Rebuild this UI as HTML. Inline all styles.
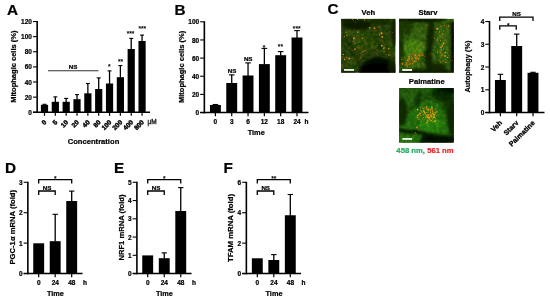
<!DOCTYPE html>
<html><head><meta charset="utf-8"><title>Figure</title>
<style>
html,body{margin:0;padding:0;background:#fff;}
body{width:550px;height:302px;overflow:hidden;}
svg{display:block;font-family:"Liberation Sans", sans-serif;}
</style></head>
<body>
<svg width="550" height="302" viewBox="0 0 550 302">
<defs><filter id="soft" x="0" y="0" width="100%" height="100%" filterUnits="userSpaceOnUse"><feGaussianBlur stdDeviation="0.32"/></filter></defs>
<rect width="550" height="302" fill="#fff"/>
<g filter="url(#soft)">
<defs>
<filter id="b1" x="-30%" y="-30%" width="160%" height="160%"><feGaussianBlur stdDeviation="1.3"/></filter>
<filter id="b2" x="-30%" y="-30%" width="160%" height="160%"><feGaussianBlur stdDeviation="2.4"/></filter>
<filter id="b3" x="-50%" y="-50%" width="200%" height="200%"><feGaussianBlur stdDeviation="0.5"/></filter>
<filter id="nz" x="0" y="0" width="100%" height="100%"><feTurbulence type="fractalNoise" baseFrequency="0.3" numOctaves="2" seed="5"/><feColorMatrix type="matrix" values="0 0 0 0 0  0 0 0 0 0.05  0 0 0 0 0  1.6 1.6 0 0 -1.25"/></filter>
<filter id="nl" x="0" y="0" width="100%" height="100%"><feTurbulence type="fractalNoise" baseFrequency="0.28" numOctaves="2" seed="11"/><feColorMatrix type="matrix" values="0 0 0 0 0.75  0 0 0 0 0.42  0 0 0 0 0.05  0 1.2 1.2 0 -0.85"/><feGaussianBlur stdDeviation="0.6"/></filter>
<clipPath id="cV"><rect x="341.1" y="18.8" width="54.4" height="53.9"/></clipPath>
<clipPath id="cS"><rect x="399.1" y="18.8" width="54.7" height="53.9"/></clipPath>
<clipPath id="cP"><rect x="399.1" y="88" width="54.8" height="54.7"/></clipPath>
</defs>
<g clip-path="url(#cV)">
<rect x="341" y="18.7" width="54.6" height="54.1" fill="#1c3606"/>
<g filter="url(#b1)">
<ellipse cx="366.0" cy="42.0" rx="12.0" ry="9.0" fill="#264a08" opacity="0.6" transform="rotate(0 366.0 42.0)"/>
<ellipse cx="352.0" cy="33.0" rx="10.0" ry="3.5" fill="#2c520a" opacity="0.7" transform="rotate(0 352.0 33.0)"/>
<ellipse cx="352.0" cy="62.0" rx="7.0" ry="6.0" fill="#264808" opacity="0.5" transform="rotate(0 352.0 62.0)"/>
<ellipse cx="388.0" cy="48.0" rx="5.0" ry="8.0" fill="#264808" opacity="0.5" transform="rotate(0 388.0 48.0)"/>
</g>
<rect x="341" y="18.7" width="54.6" height="54.1" filter="url(#nl)" opacity="0.28"/>
<rect x="341" y="18.7" width="54.6" height="54.1" filter="url(#nz)" opacity="0.4"/>
<g filter="url(#b1)" opacity="0.93">
<ellipse cx="357.0" cy="24.8" rx="14.5" ry="5.4" fill="#081a03" opacity="1" transform="rotate(0 357.0 24.8)"/>
<ellipse cx="349.0" cy="21.0" rx="9.0" ry="3.0" fill="#0a1c04" opacity="0.8" transform="rotate(0 349.0 21.0)"/>
<ellipse cx="378.5" cy="72.5" rx="19.5" ry="15.5" fill="#030a02" opacity="1" transform="rotate(0 378.5 72.5)"/>
<ellipse cx="378.5" cy="74.0" rx="20.0" ry="11.0" fill="#020601" opacity="1" transform="rotate(0 378.5 74.0)"/>
<ellipse cx="396.0" cy="32.0" rx="5.0" ry="13.0" fill="#0c1c05" opacity="0.9" transform="rotate(0 396.0 32.0)"/>
<ellipse cx="380.0" cy="22.0" rx="12.0" ry="3.5" fill="#122806" opacity="0.8" transform="rotate(0 380.0 22.0)"/>
<ellipse cx="342.0" cy="46.0" rx="3.0" ry="16.0" fill="#10220506" opacity="0.7" transform="rotate(0 342.0 46.0)"/>
<polyline points="344.0,36.0 352.0,50.0 358.0,62.0 361.0,70.0" fill="none" stroke="#0e2005" stroke-width="1.6" opacity="0.7" stroke-linecap="round"/>
<polyline points="372.0,36.0 380.0,44.0 388.0,56.0 392.0,66.0" fill="none" stroke="#122606" stroke-width="1.4" opacity="0.5" stroke-linecap="round"/>
<ellipse cx="348.0" cy="73.0" rx="9.0" ry="2.5" fill="#0a1804" opacity="0.9" transform="rotate(0 348.0 73.0)"/>
<ellipse cx="392.0" cy="66.0" rx="4.0" ry="7.0" fill="#142a06" opacity="0.7" transform="rotate(0 392.0 66.0)"/>
</g>
<g filter="url(#b3)" opacity="0.92">
<circle cx="352.5" cy="19.5" r="0.48" fill="#f09a10"/>
<circle cx="353.5" cy="21.0" r="0.44" fill="#f09a10"/>
<circle cx="357.5" cy="19.5" r="0.55" fill="#f09a10"/>
<circle cx="355.5" cy="22.5" r="0.42" fill="#d8700e"/>
<circle cx="364.5" cy="20.0" r="0.69" fill="#c8620e"/>
<circle cx="369.5" cy="27.5" r="0.56" fill="#e8880c"/>
<circle cx="346.0" cy="32.3" r="0.58" fill="#e07a0c"/>
<circle cx="349.5" cy="31.0" r="0.48" fill="#d0680c"/>
<circle cx="357.8" cy="32.3" r="0.80" fill="#e8920e"/>
<circle cx="344.3" cy="36.5" r="0.72" fill="#c8620e"/>
<circle cx="346.5" cy="35.5" r="0.48" fill="#f09a10"/>
<circle cx="354.0" cy="38.2" r="0.96" fill="#f09a10"/>
<circle cx="356.5" cy="35.5" r="0.48" fill="#b85a10"/>
<circle cx="362.5" cy="38.3" r="0.64" fill="#f09a10"/>
<circle cx="353.5" cy="41.5" r="0.64" fill="#c8620e"/>
<circle cx="355.0" cy="43.5" r="0.72" fill="#c8620e"/>
<circle cx="358.0" cy="42.5" r="0.56" fill="#d0680c"/>
<circle cx="353.5" cy="39.8" r="0.56" fill="#b85a10"/>
<circle cx="350.0" cy="29.0" r="0.40" fill="#e07a0c"/>
<circle cx="370.0" cy="28.0" r="0.80" fill="#e8900e"/>
<circle cx="374.5" cy="28.3" r="0.96" fill="#e8860c"/>
<circle cx="378.0" cy="27.0" r="0.56" fill="#e07a0c"/>
<circle cx="376.0" cy="30.5" r="0.64" fill="#d0680c"/>
<circle cx="381.5" cy="33.3" r="1.12" fill="#f09a10"/>
<circle cx="379.5" cy="35.0" r="0.64" fill="#e07a0c"/>
<circle cx="382.3" cy="37.0" r="0.88" fill="#f0a010"/>
<circle cx="392.8" cy="32.5" r="0.48" fill="#b85a10"/>
<circle cx="381.8" cy="45.8" r="0.80" fill="#e8a010"/>
<circle cx="384.5" cy="47.5" r="0.48" fill="#f09a10"/>
<circle cx="389.0" cy="44.5" r="0.48" fill="#c8620e"/>
<circle cx="377.0" cy="43.0" r="0.40" fill="#d0680c"/>
<circle cx="355.0" cy="49.3" r="0.96" fill="#e07010"/>
<circle cx="358.0" cy="47.8" r="0.64" fill="#d8700e"/>
<circle cx="360.0" cy="48.0" r="0.56" fill="#d0680c"/>
<circle cx="348.0" cy="51.3" r="0.64" fill="#b85a10"/>
<circle cx="352.0" cy="50.5" r="0.40" fill="#d8700e"/>
<circle cx="343.3" cy="54.5" r="0.80" fill="#e8900e"/>
<circle cx="342.5" cy="56.5" r="0.48" fill="#e07a0c"/>
<circle cx="346.5" cy="57.5" r="0.64" fill="#b85a10"/>
<circle cx="349.3" cy="58.5" r="0.88" fill="#f09010"/>
<circle cx="344.5" cy="59.5" r="0.72" fill="#f09a10"/>
<circle cx="363.0" cy="51.5" r="0.72" fill="#e08a10"/>
<circle cx="364.5" cy="50.5" r="0.48" fill="#d8700e"/>
<circle cx="365.3" cy="50.3" r="0.48" fill="#e8880c"/>
<circle cx="360.5" cy="57.5" r="0.64" fill="#b85a10"/>
<circle cx="358.5" cy="54.0" r="0.40" fill="#d8700e"/>
<circle cx="352.0" cy="62.5" r="0.40" fill="#b85a10"/>
<circle cx="347.0" cy="64.0" r="0.40" fill="#b85a10"/>
<circle cx="342.5" cy="67.5" r="0.40" fill="#e8880c"/>
<circle cx="356.0" cy="60.5" r="0.40" fill="#c8620e"/>
<circle cx="361.0" cy="53.5" r="0.48" fill="#f09a10"/>
<circle cx="381.8" cy="45.8" r="0.72" fill="#f0b010"/>
<circle cx="383.8" cy="48.3" r="0.80" fill="#f0a810"/>
<circle cx="388.8" cy="48.8" r="0.72" fill="#e0900e"/>
<circle cx="386.0" cy="54.5" r="0.56" fill="#d0680c"/>
<circle cx="389.0" cy="55.0" r="0.72" fill="#e07810"/>
<circle cx="384.5" cy="51.5" r="0.40" fill="#c8620e"/>
<circle cx="391.0" cy="58.0" r="0.40" fill="#d0680c"/>
<circle cx="375.0" cy="52.0" r="0.32" fill="#b85a10"/>
</g>
<rect x="344" y="69" width="10.1" height="1.9" fill="#e4efe4"/>
</g>
<g clip-path="url(#cS)">
<rect x="399" y="18.7" width="54.9" height="54.1" fill="#26540a"/>
<g filter="url(#b1)">
<ellipse cx="414.0" cy="48.0" rx="10.5" ry="9.5" fill="#44860c" opacity="0.95" transform="rotate(0 414.0 48.0)"/>
<ellipse cx="418.0" cy="34.0" rx="9.0" ry="8.0" fill="#2c600a" opacity="0.7" transform="rotate(0 418.0 34.0)"/>
<ellipse cx="412.0" cy="60.0" rx="9.0" ry="7.0" fill="#356e0a" opacity="0.8" transform="rotate(0 412.0 60.0)"/>
<ellipse cx="443.0" cy="23.0" rx="7.0" ry="3.0" fill="#1c5206" opacity="0.9" transform="rotate(0 443.0 23.0)"/>
<ellipse cx="442.0" cy="42.0" rx="6.0" ry="17.0" fill="#30640c" opacity="0.8" transform="rotate(0 442.0 42.0)"/>
</g>
<rect x="399" y="18.7" width="54.9" height="54.1" filter="url(#nl)" opacity="0.28"/>
<rect x="399" y="18.7" width="54.9" height="54.1" filter="url(#nz)" opacity="0.4"/>
<g filter="url(#b1)" opacity="0.93">
<ellipse cx="420.0" cy="19.5" rx="26.0" ry="2.8" fill="#071604" opacity="1" transform="rotate(0 420.0 19.5)"/>
<ellipse cx="404.0" cy="27.0" rx="9.0" ry="8.0" fill="#0a2605" opacity="0.7" transform="rotate(0 404.0 27.0)"/>
<ellipse cx="430.5" cy="36.0" rx="3.6" ry="18.0" fill="#0a1c06" opacity="0.95" transform="rotate(4 430.5 36.0)"/>
<ellipse cx="428.5" cy="60.0" rx="3.6" ry="12.0" fill="#081a05" opacity="0.95" transform="rotate(-6 428.5 60.0)"/>
<ellipse cx="453.5" cy="48.0" rx="2.6" ry="27.0" fill="#020601" opacity="1" transform="rotate(0 453.5 48.0)"/>
<polygon points="451.2,22.0 455.0,22.0 455.0,73.0 451.2,73.0" fill="#010401" opacity="1"/>
<ellipse cx="426.0" cy="72.5" rx="30.0" ry="3.2" fill="#081804" opacity="1" transform="rotate(0 426.0 72.5)"/>
<ellipse cx="436.0" cy="68.0" rx="10.0" ry="5.0" fill="#0a2006" opacity="0.9" transform="rotate(0 436.0 68.0)"/>
<ellipse cx="401.0" cy="50.0" rx="2.5" ry="16.0" fill="#0e2805" opacity="0.8" transform="rotate(0 401.0 50.0)"/>
</g>
<g filter="url(#b3)" opacity="0.92">
<circle cx="413.0" cy="60.6" r="0.84" fill="#b85a10"/>
<circle cx="411.8" cy="58.4" r="0.86" fill="#d0680c"/>
<circle cx="408.3" cy="60.9" r="0.80" fill="#c8620e"/>
<circle cx="420.0" cy="56.0" r="0.64" fill="#c8620e"/>
<circle cx="419.3" cy="55.8" r="0.52" fill="#d0680c"/>
<circle cx="415.8" cy="57.7" r="0.64" fill="#e07a0c"/>
<circle cx="406.2" cy="66.1" r="0.51" fill="#e07a0c"/>
<circle cx="416.9" cy="58.2" r="0.66" fill="#d8700e"/>
<circle cx="401.9" cy="59.4" r="0.62" fill="#d8700e"/>
<circle cx="408.1" cy="60.1" r="0.52" fill="#f09a10"/>
<circle cx="415.0" cy="57.4" r="0.54" fill="#d8700e"/>
<circle cx="415.2" cy="55.2" r="0.86" fill="#f09a10"/>
<circle cx="415.7" cy="58.5" r="0.49" fill="#b85a10"/>
<circle cx="412.8" cy="65.1" r="0.56" fill="#c8620e"/>
<circle cx="418.3" cy="59.8" r="0.54" fill="#e8880c"/>
<circle cx="409.1" cy="58.6" r="0.86" fill="#f09a10"/>
<circle cx="411.5" cy="59.3" r="0.63" fill="#d8700e"/>
<circle cx="417.2" cy="57.1" r="0.53" fill="#c8620e"/>
<circle cx="409.6" cy="57.4" r="0.88" fill="#c8620e"/>
<circle cx="412.7" cy="63.3" r="0.67" fill="#e8880c"/>
<circle cx="409.7" cy="61.7" r="0.51" fill="#d8700e"/>
<circle cx="413.3" cy="53.3" r="0.78" fill="#d0680c"/>
<circle cx="415.8" cy="61.7" r="0.59" fill="#b85a10"/>
<circle cx="402.5" cy="64.1" r="0.76" fill="#f09a10"/>
<circle cx="411.6" cy="56.7" r="0.49" fill="#f09a10"/>
<circle cx="416.0" cy="56.7" r="0.62" fill="#d0680c"/>
<circle cx="407.2" cy="65.3" r="0.70" fill="#d8700e"/>
<circle cx="418.5" cy="58.8" r="0.78" fill="#e8880c"/>
<circle cx="421.6" cy="54.8" r="0.87" fill="#b85a10"/>
<circle cx="412.0" cy="54.7" r="0.52" fill="#b85a10"/>
<circle cx="415.7" cy="54.9" r="0.58" fill="#e8880c"/>
<circle cx="409.1" cy="56.7" r="0.84" fill="#e8880c"/>
<circle cx="407.6" cy="60.2" r="0.79" fill="#f09a10"/>
<circle cx="417.0" cy="49.1" r="0.70" fill="#f09a10"/>
<circle cx="406.3" cy="63.8" r="0.61" fill="#e07a0c"/>
<circle cx="421.9" cy="55.4" r="0.73" fill="#b85a10"/>
<circle cx="414.2" cy="55.4" r="0.87" fill="#b85a10"/>
<circle cx="409.2" cy="64.6" r="0.56" fill="#e07a0c"/>
<circle cx="419.5" cy="55.4" r="0.81" fill="#d0680c"/>
<circle cx="415.5" cy="58.8" r="0.80" fill="#e07a0c"/>
<circle cx="422.8" cy="55.0" r="0.69" fill="#e8880c"/>
<circle cx="417.1" cy="58.3" r="0.77" fill="#d8700e"/>
<circle cx="407.4" cy="66.9" r="0.80" fill="#c8620e"/>
<circle cx="419.3" cy="56.8" r="0.58" fill="#d0680c"/>
<circle cx="402.2" cy="63.2" r="0.72" fill="#e8880c"/>
<circle cx="415.0" cy="51.1" r="0.66" fill="#d0680c"/>
<circle cx="414.2" cy="61.7" r="0.88" fill="#e8880c"/>
<circle cx="409.3" cy="66.9" r="0.51" fill="#d8700e"/>
<circle cx="416.1" cy="56.3" r="0.57" fill="#e07a0c"/>
<circle cx="416.2" cy="59.1" r="0.62" fill="#c8620e"/>
<circle cx="416.0" cy="61.1" r="0.73" fill="#f09a10"/>
<circle cx="409.4" cy="59.5" r="0.82" fill="#c8620e"/>
<circle cx="419.0" cy="55.2" r="0.84" fill="#e8880c"/>
<circle cx="410.4" cy="63.8" r="0.80" fill="#d8700e"/>
<circle cx="420.4" cy="52.7" r="0.81" fill="#d8700e"/>
<circle cx="406.1" cy="62.6" r="0.84" fill="#b85a10"/>
<circle cx="412.2" cy="58.2" r="0.76" fill="#e07a0c"/>
<circle cx="405.2" cy="65.0" r="0.80" fill="#c8620e"/>
<circle cx="406.5" cy="64.0" r="0.72" fill="#e07a0c"/>
<circle cx="415.5" cy="66.0" r="0.56" fill="#c8620e"/>
<circle cx="401.5" cy="57.3" r="0.48" fill="#b85a10"/>
<circle cx="423.0" cy="47.5" r="0.48" fill="#d0680c"/>
<circle cx="419.0" cy="46.0" r="0.48" fill="#e8880c"/>
<circle cx="411.5" cy="48.3" r="0.48" fill="#d8700e"/>
<circle cx="425.5" cy="50.5" r="0.56" fill="#b85a10"/>
<circle cx="425.0" cy="56.5" r="0.48" fill="#d0680c"/>
<circle cx="416.5" cy="27.0" r="0.36" fill="#a85a10"/>
<circle cx="422.0" cy="28.5" r="0.36" fill="#a85a10"/>
<circle cx="420.0" cy="38.0" r="0.40" fill="#b05c10"/>
<circle cx="413.0" cy="38.0" r="0.36" fill="#a85a10"/>
<circle cx="425.0" cy="34.0" r="0.40" fill="#b05c10"/>
<circle cx="418.5" cy="45.0" r="0.48" fill="#c8620e"/>
<circle cx="423.0" cy="42.0" r="0.48" fill="#c8620e"/>
<circle cx="425.0" cy="42.0" r="0.48" fill="#c8620e"/>
<circle cx="411.0" cy="44.0" r="0.40" fill="#b86010"/>
<circle cx="428.3" cy="25.0" r="0.40" fill="#a85a10"/>
<circle cx="425.5" cy="42.5" r="0.40" fill="#c8620e"/>
<circle cx="437.3" cy="28.8" r="1.12" fill="#f09a10"/>
<circle cx="441.0" cy="26.3" r="0.80" fill="#d0680c"/>
<circle cx="444.5" cy="25.5" r="0.64" fill="#d8700e"/>
<circle cx="446.5" cy="26.3" r="0.56" fill="#d0680c"/>
<circle cx="448.5" cy="26.0" r="0.64" fill="#e8900e"/>
<circle cx="439.5" cy="31.8" r="0.64" fill="#e07a0c"/>
<circle cx="436.0" cy="32.0" r="0.48" fill="#e07a0c"/>
<circle cx="442.5" cy="34.0" r="0.80" fill="#e8920e"/>
<circle cx="440.0" cy="35.5" r="0.56" fill="#e07a0c"/>
<circle cx="446.0" cy="31.5" r="0.40" fill="#d8700e"/>
<circle cx="437.3" cy="40.0" r="0.72" fill="#e8920e"/>
<circle cx="440.5" cy="40.5" r="0.56" fill="#e07a0c"/>
<circle cx="434.5" cy="38.5" r="0.48" fill="#f09a10"/>
<circle cx="443.5" cy="43.5" r="0.96" fill="#f0a010"/>
<circle cx="441.5" cy="45.0" r="0.72" fill="#c8620e"/>
<circle cx="446.5" cy="42.0" r="0.56" fill="#b85a10"/>
<circle cx="441.0" cy="47.5" r="0.80" fill="#f0a010"/>
<circle cx="442.5" cy="46.0" r="0.72" fill="#f4b010"/>
<circle cx="441.3" cy="50.0" r="0.80" fill="#e8920e"/>
<circle cx="440.5" cy="52.5" r="0.72" fill="#d0680c"/>
<circle cx="437.5" cy="52.3" r="0.72" fill="#e08a10"/>
<circle cx="443.5" cy="49.0" r="0.56" fill="#e07a0c"/>
<circle cx="445.5" cy="52.5" r="0.80" fill="#f0a010"/>
<circle cx="447.5" cy="53.0" r="0.56" fill="#f09a10"/>
<circle cx="445.0" cy="56.0" r="0.96" fill="#f0a010"/>
<circle cx="447.5" cy="57.5" r="0.80" fill="#e8900e"/>
<circle cx="449.0" cy="55.5" r="0.64" fill="#b85a10"/>
<circle cx="442.0" cy="55.0" r="0.64" fill="#f09a10"/>
<circle cx="441.0" cy="57.0" r="0.56" fill="#c8620e"/>
<circle cx="445.5" cy="59.5" r="0.64" fill="#d0680c"/>
<circle cx="440.5" cy="62.0" r="0.56" fill="#e8880c"/>
<circle cx="446.0" cy="62.3" r="0.64" fill="#e07a0c"/>
<circle cx="443.0" cy="60.5" r="0.48" fill="#f09a10"/>
<circle cx="439.0" cy="60.0" r="0.40" fill="#f09a10"/>
<circle cx="450.5" cy="52.0" r="0.48" fill="#e07a0c"/>
<circle cx="452.0" cy="57.0" r="0.40" fill="#d8700e"/>
<circle cx="435.0" cy="62.0" r="0.40" fill="#b05c10"/>
<circle cx="432.0" cy="37.0" r="0.40" fill="#a85a10"/>
<circle cx="452.5" cy="60.5" r="0.40" fill="#d8700e"/>
</g>
<rect x="402.2" y="69" width="9.9" height="2.0" fill="#e4efe4"/>
</g>
<g clip-path="url(#cP)">
<rect x="399" y="87.9" width="55" height="54.9" fill="#154a07"/>
<g filter="url(#b1)">
<ellipse cx="412.0" cy="98.0" rx="12.0" ry="9.0" fill="#22600a" opacity="0.8" transform="rotate(0 412.0 98.0)"/>
<ellipse cx="420.0" cy="90.5" rx="20.0" ry="3.0" fill="#1c5a0a" opacity="0.8" transform="rotate(0 420.0 90.5)"/>
<ellipse cx="452.0" cy="106.0" rx="3.0" ry="12.0" fill="#123808" opacity="0.8" transform="rotate(0 452.0 106.0)"/>
<ellipse cx="427.5" cy="114.0" rx="9.5" ry="8.5" fill="#5a8a10" opacity="0.45" transform="rotate(0 427.5 114.0)"/>
<path d="M426 101 C432 100 438 102 441 108 C445 116 448 124 450 134 C440 134 428 133 418 131 C410 130 404 130 400 128 C402 122 408 114 414 108 C418 104 422 102 426 101Z" fill="#1c7209" opacity="0.95"/>
<ellipse cx="431.0" cy="125.0" rx="12.0" ry="6.5" fill="#24900c" opacity="0.85" transform="rotate(0 431.0 125.0)"/>
<ellipse cx="410.0" cy="123.0" rx="7.0" ry="4.5" fill="#1a6c08" opacity="0.7" transform="rotate(0 410.0 123.0)"/>
<polygon points="399.0,133.5 410.0,134.5 416.0,133.8 423.0,137.5 426.0,143.0 399.0,143.0" fill="#1e720a" opacity="0.95"/>
</g>
<rect x="399" y="87.9" width="55" height="54.9" filter="url(#nl)" opacity="0.2"/>
<rect x="399" y="87.9" width="55" height="54.9" filter="url(#nz)" opacity="0.4"/>
<g filter="url(#b1)" opacity="0.93">
<ellipse cx="446.0" cy="90.5" rx="10.0" ry="4.2" fill="#040e03" opacity="1" transform="rotate(0 446.0 90.5)"/>
<ellipse cx="442.0" cy="95.0" rx="11.0" ry="6.0" fill="#082005" opacity="0.8" transform="rotate(20 442.0 95.0)"/>
<polyline points="441.0,92.0 445.0,100.0 448.0,110.0 451.0,122.0 453.0,134.0" fill="none" stroke="#0a2406" stroke-width="3" opacity="0.75" stroke-linecap="round"/>
<ellipse cx="418.0" cy="100.0" rx="3.5" ry="9.0" fill="#0a2205" opacity="0.6" transform="rotate(15 418.0 100.0)"/>
<ellipse cx="402.0" cy="112.0" rx="5.0" ry="14.0" fill="#0a2605" opacity="0.9" transform="rotate(0 402.0 112.0)"/>
<ellipse cx="452.0" cy="118.0" rx="4.0" ry="18.0" fill="#082005" opacity="0.9" transform="rotate(0 452.0 118.0)"/>
<polyline points="399.0,129.8 408.0,131.8 416.0,131.5 428.0,134.8 440.0,136.8 454.0,138.0" fill="none" stroke="#051203" stroke-width="2.8" opacity="1" stroke-linecap="round"/>
<polygon points="423.0,135.5 454.0,137.0 454.0,143.0 419.0,143.0" fill="#030c02" opacity="1"/>
<ellipse cx="440.0" cy="141.0" rx="14.0" ry="3.5" fill="#020802" opacity="1" transform="rotate(0 440.0 141.0)"/>
</g>
<g filter="url(#b3)" opacity="0.92">
<circle cx="420.7" cy="115.6" r="0.75" fill="#d88a10"/>
<circle cx="432.7" cy="111.3" r="0.78" fill="#c88010"/>
<circle cx="420.1" cy="113.5" r="0.85" fill="#e09410"/>
<circle cx="429.9" cy="119.1" r="0.83" fill="#e09410"/>
<circle cx="420.7" cy="107.6" r="0.57" fill="#c88010"/>
<circle cx="431.1" cy="116.1" r="0.71" fill="#f4b414"/>
<circle cx="435.6" cy="118.5" r="0.51" fill="#e09410"/>
<circle cx="426.8" cy="112.5" r="0.73" fill="#d88a10"/>
<circle cx="423.1" cy="108.3" r="0.66" fill="#f0a810"/>
<circle cx="427.8" cy="114.5" r="0.58" fill="#c88010"/>
<circle cx="425.4" cy="113.5" r="0.55" fill="#c88010"/>
<circle cx="428.8" cy="117.1" r="0.63" fill="#e89a0c"/>
<circle cx="433.2" cy="114.8" r="0.77" fill="#f0a810"/>
<circle cx="417.6" cy="117.2" r="0.83" fill="#d88a10"/>
<circle cx="419.6" cy="113.0" r="0.54" fill="#e09410"/>
<circle cx="419.3" cy="113.8" r="0.53" fill="#f0a810"/>
<circle cx="423.1" cy="114.8" r="0.66" fill="#e89a0c"/>
<circle cx="431.8" cy="107.4" r="0.83" fill="#e8a010"/>
<circle cx="425.7" cy="117.0" r="0.75" fill="#e09410"/>
<circle cx="426.8" cy="115.6" r="0.80" fill="#e8a010"/>
<circle cx="427.9" cy="109.0" r="0.64" fill="#e09410"/>
<circle cx="430.3" cy="109.9" r="0.85" fill="#e89a0c"/>
<circle cx="437.4" cy="111.4" r="0.62" fill="#c88010"/>
<circle cx="431.0" cy="113.8" r="0.67" fill="#c88010"/>
<circle cx="432.4" cy="110.9" r="0.58" fill="#e89a0c"/>
<circle cx="432.7" cy="113.2" r="0.81" fill="#f4b414"/>
<circle cx="434.1" cy="116.8" r="0.64" fill="#e8a010"/>
<circle cx="428.1" cy="110.1" r="0.80" fill="#e09410"/>
<circle cx="431.4" cy="116.0" r="0.82" fill="#e8a010"/>
<circle cx="436.2" cy="112.0" r="0.74" fill="#e09410"/>
<circle cx="430.3" cy="116.2" r="0.69" fill="#e09410"/>
<circle cx="428.8" cy="114.8" r="0.73" fill="#f4b414"/>
<circle cx="428.3" cy="110.9" r="0.45" fill="#f0a810"/>
<circle cx="421.8" cy="111.9" r="0.62" fill="#f0a810"/>
<circle cx="430.5" cy="121.1" r="0.45" fill="#e89a0c"/>
<circle cx="432.6" cy="118.9" r="0.56" fill="#e89a0c"/>
<circle cx="431.5" cy="117.2" r="0.50" fill="#e8a010"/>
<circle cx="428.3" cy="117.5" r="0.87" fill="#e8a010"/>
<circle cx="436.9" cy="112.2" r="0.64" fill="#c88010"/>
<circle cx="428.6" cy="118.5" r="0.68" fill="#c88010"/>
<circle cx="432.0" cy="108.3" r="0.80" fill="#e8a010"/>
<circle cx="428.3" cy="117.4" r="0.74" fill="#f0a810"/>
<circle cx="428.0" cy="109.6" r="0.80" fill="#e09410"/>
<circle cx="426.7" cy="115.6" r="0.52" fill="#e8a010"/>
<circle cx="433.3" cy="117.2" r="0.77" fill="#f4b414"/>
<circle cx="427.6" cy="120.3" r="0.75" fill="#f0a810"/>
<circle cx="423.2" cy="117.6" r="0.54" fill="#e89a0c"/>
<circle cx="433.3" cy="112.4" r="0.59" fill="#c88010"/>
<circle cx="417.6" cy="109.4" r="0.86" fill="#f4b414"/>
<circle cx="428.6" cy="116.3" r="0.71" fill="#e89a0c"/>
<circle cx="435.7" cy="109.0" r="0.51" fill="#e89a0c"/>
<circle cx="427.3" cy="116.9" r="0.79" fill="#f0a810"/>
<circle cx="432.7" cy="109.4" r="0.48" fill="#c88010"/>
<circle cx="425.1" cy="114.9" r="0.61" fill="#d88a10"/>
<circle cx="427.9" cy="121.3" r="0.64" fill="#c88010"/>
<circle cx="426.9" cy="122.7" r="0.83" fill="#e8a010"/>
<circle cx="423.6" cy="111.5" r="0.61" fill="#f4b414"/>
<circle cx="431.2" cy="120.6" r="0.73" fill="#f4b414"/>
<circle cx="430.8" cy="115.2" r="0.79" fill="#e09410"/>
<circle cx="417.5" cy="110.4" r="0.64" fill="#c88010"/>
<circle cx="424.0" cy="111.2" r="0.87" fill="#e8a010"/>
<circle cx="430.5" cy="112.2" r="0.76" fill="#e89a0c"/>
<circle cx="431.6" cy="114.2" r="0.79" fill="#c88010"/>
<circle cx="425.5" cy="114.4" r="0.49" fill="#f0a810"/>
<circle cx="429.6" cy="117.9" r="0.84" fill="#e8a010"/>
<circle cx="424.7" cy="112.7" r="0.87" fill="#f4b414"/>
<circle cx="435.1" cy="112.9" r="0.87" fill="#e09410"/>
<circle cx="424.7" cy="107.9" r="0.56" fill="#c88010"/>
<circle cx="428.2" cy="114.8" r="0.82" fill="#e09410"/>
<circle cx="434.9" cy="114.7" r="0.66" fill="#e8a010"/>
<circle cx="418.6" cy="114.7" r="0.63" fill="#f4b414"/>
<circle cx="433.3" cy="116.5" r="0.63" fill="#e09410"/>
<circle cx="426.6" cy="106.3" r="0.65" fill="#e8a010"/>
<circle cx="422.4" cy="119.7" r="0.54" fill="#e89a0c"/>
<circle cx="436.2" cy="108.1" r="0.47" fill="#e89a0c"/>
<circle cx="419.0" cy="118.0" r="0.46" fill="#f4b414"/>
<circle cx="431.9" cy="109.1" r="0.59" fill="#e89a0c"/>
<circle cx="423.6" cy="110.5" r="0.84" fill="#d88a10"/>
<circle cx="420.9" cy="110.5" r="0.51" fill="#f4b414"/>
<circle cx="434.1" cy="117.1" r="0.84" fill="#f4b414"/>
<circle cx="426.6" cy="109.1" r="0.81" fill="#c88010"/>
<circle cx="426.6" cy="107.5" r="0.63" fill="#d88a10"/>
<circle cx="417.7" cy="117.1" r="0.69" fill="#c88010"/>
<circle cx="435.1" cy="117.8" r="0.48" fill="#f0a810"/>
<circle cx="434.5" cy="115.0" r="0.63" fill="#f4b414"/>
<circle cx="423.4" cy="114.2" r="0.57" fill="#c88010"/>
<circle cx="417.5" cy="115.5" r="0.64" fill="#f4b414"/>
<circle cx="416.8" cy="117.5" r="0.56" fill="#c88010"/>
<circle cx="419.0" cy="119.5" r="0.56" fill="#f0a810"/>
<circle cx="435.5" cy="121.0" r="0.64" fill="#f4b414"/>
<circle cx="437.0" cy="116.0" r="0.48" fill="#f4b414"/>
<circle cx="417.0" cy="127.5" r="0.88" fill="#f09a10"/>
<circle cx="418.5" cy="130.0" r="0.48" fill="#e89a0c"/>
<circle cx="415.5" cy="132.5" r="0.48" fill="#f4b414"/>
<circle cx="420.5" cy="136.0" r="0.40" fill="#e09410"/>
<circle cx="413.0" cy="137.5" r="0.40" fill="#e09410"/>
<circle cx="434.5" cy="121.5" r="0.88" fill="#f0b414"/>
<circle cx="432.5" cy="122.0" r="0.56" fill="#c88010"/>
<circle cx="437.0" cy="110.0" r="0.40" fill="#d88a10"/>
<circle cx="440.0" cy="118.0" r="0.40" fill="#c07810"/>
<circle cx="443.0" cy="121.0" r="0.40" fill="#c07810"/>
<circle cx="424.0" cy="124.0" r="0.48" fill="#e89a0c"/>
<circle cx="428.0" cy="125.5" r="0.40" fill="#e89a0c"/>
<circle cx="421.0" cy="121.0" r="0.48" fill="#f4b414"/>
<circle cx="436.0" cy="127.0" r="0.32" fill="#b87010"/>
</g>
<rect x="402.3" y="138" width="9.8" height="1.9" fill="#e4efe4"/>
</g>
<text x="7.0" y="14.9" font-size="15.3" text-anchor="start" font-weight="bold" fill="#000" stroke="#000" stroke-width="0.22">A</text>
<text x="174.4" y="14.8" font-size="15.3" text-anchor="start" font-weight="bold" fill="#000" stroke="#000" stroke-width="0.22">B</text>
<text x="327.4" y="13.9" font-size="15.3" text-anchor="start" font-weight="bold" fill="#000" stroke="#000" stroke-width="0.22">C</text>
<text x="4.9" y="173.0" font-size="15.3" text-anchor="start" font-weight="bold" fill="#000" stroke="#000" stroke-width="0.22">D</text>
<text x="113.9" y="173.0" font-size="15.3" text-anchor="start" font-weight="bold" fill="#000" stroke="#000" stroke-width="0.22">E</text>
<text x="223.6" y="173.0" font-size="15.3" text-anchor="start" font-weight="bold" fill="#000" stroke="#000" stroke-width="0.22">F</text>
<rect x="40.90" y="104.80" width="7.20" height="7.45" fill="#000"/>
<line x1="44.50" y1="104.20" x2="44.50" y2="105.30" stroke="#000" stroke-width="1.3"/>
<line x1="42.50" y1="104.30" x2="46.50" y2="104.30" stroke="#000" stroke-width="1.1"/>
<line x1="44.50" y1="112.25" x2="44.50" y2="115.85" stroke="#000" stroke-width="1.2"/>
<rect x="51.74" y="101.80" width="7.20" height="10.45" fill="#000"/>
<line x1="55.34" y1="96.80" x2="55.34" y2="102.30" stroke="#000" stroke-width="1.3"/>
<line x1="53.34" y1="96.90" x2="57.34" y2="96.90" stroke="#000" stroke-width="1.1"/>
<line x1="55.34" y1="112.25" x2="55.34" y2="115.85" stroke="#000" stroke-width="1.2"/>
<rect x="62.58" y="101.80" width="7.20" height="10.45" fill="#000"/>
<line x1="66.18" y1="98.30" x2="66.18" y2="102.30" stroke="#000" stroke-width="1.3"/>
<line x1="64.18" y1="98.40" x2="68.18" y2="98.40" stroke="#000" stroke-width="1.1"/>
<line x1="66.18" y1="112.25" x2="66.18" y2="115.85" stroke="#000" stroke-width="1.2"/>
<rect x="73.42" y="99.20" width="7.20" height="13.05" fill="#000"/>
<line x1="77.02" y1="94.50" x2="77.02" y2="99.70" stroke="#000" stroke-width="1.3"/>
<line x1="75.02" y1="94.60" x2="79.02" y2="94.60" stroke="#000" stroke-width="1.1"/>
<line x1="77.02" y1="112.25" x2="77.02" y2="115.85" stroke="#000" stroke-width="1.2"/>
<rect x="84.26" y="93.30" width="7.20" height="18.95" fill="#000"/>
<line x1="87.86" y1="83.40" x2="87.86" y2="93.80" stroke="#000" stroke-width="1.3"/>
<line x1="85.86" y1="83.50" x2="89.86" y2="83.50" stroke="#000" stroke-width="1.1"/>
<line x1="87.86" y1="112.25" x2="87.86" y2="115.85" stroke="#000" stroke-width="1.2"/>
<rect x="95.10" y="89.00" width="7.20" height="23.25" fill="#000"/>
<line x1="98.70" y1="77.80" x2="98.70" y2="89.50" stroke="#000" stroke-width="1.3"/>
<line x1="96.70" y1="77.90" x2="100.70" y2="77.90" stroke="#000" stroke-width="1.1"/>
<line x1="98.70" y1="112.25" x2="98.70" y2="115.85" stroke="#000" stroke-width="1.2"/>
<rect x="105.94" y="83.50" width="7.20" height="28.75" fill="#000"/>
<line x1="109.54" y1="70.80" x2="109.54" y2="84.00" stroke="#000" stroke-width="1.3"/>
<line x1="107.54" y1="70.90" x2="111.54" y2="70.90" stroke="#000" stroke-width="1.1"/>
<line x1="109.54" y1="112.25" x2="109.54" y2="115.85" stroke="#000" stroke-width="1.2"/>
<rect x="116.78" y="77.20" width="7.20" height="35.05" fill="#000"/>
<line x1="120.38" y1="65.50" x2="120.38" y2="77.70" stroke="#000" stroke-width="1.3"/>
<line x1="118.38" y1="65.60" x2="122.38" y2="65.60" stroke="#000" stroke-width="1.1"/>
<line x1="120.38" y1="112.25" x2="120.38" y2="115.85" stroke="#000" stroke-width="1.2"/>
<rect x="127.62" y="49.00" width="7.20" height="63.25" fill="#000"/>
<line x1="131.22" y1="38.30" x2="131.22" y2="49.50" stroke="#000" stroke-width="1.3"/>
<line x1="129.22" y1="38.40" x2="133.22" y2="38.40" stroke="#000" stroke-width="1.1"/>
<line x1="131.22" y1="112.25" x2="131.22" y2="115.85" stroke="#000" stroke-width="1.2"/>
<rect x="138.46" y="41.00" width="7.20" height="71.25" fill="#000"/>
<line x1="142.06" y1="35.00" x2="142.06" y2="41.50" stroke="#000" stroke-width="1.3"/>
<line x1="140.06" y1="35.10" x2="144.06" y2="35.10" stroke="#000" stroke-width="1.1"/>
<line x1="142.06" y1="112.25" x2="142.06" y2="115.85" stroke="#000" stroke-width="1.2"/>
<line x1="37.15" y1="21.03" x2="37.15" y2="113.05" stroke="#000" stroke-width="1.6"/>
<line x1="32.95" y1="112.25" x2="150.00" y2="112.25" stroke="#000" stroke-width="1.6"/>
<line x1="32.95" y1="112.25" x2="37.15" y2="112.25" stroke="#000" stroke-width="1.1"/>
<text x="31.949999999999996" y="114.85" font-size="6.5" text-anchor="end" font-weight="bold" fill="#000" stroke="#000" stroke-width="0.22">0</text>
<line x1="32.95" y1="97.13" x2="37.15" y2="97.13" stroke="#000" stroke-width="1.1"/>
<text x="31.949999999999996" y="99.72999999999999" font-size="6.5" text-anchor="end" font-weight="bold" fill="#000" stroke="#000" stroke-width="0.22">20</text>
<line x1="32.95" y1="82.01" x2="37.15" y2="82.01" stroke="#000" stroke-width="1.1"/>
<text x="31.949999999999996" y="84.60999999999999" font-size="6.5" text-anchor="end" font-weight="bold" fill="#000" stroke="#000" stroke-width="0.22">40</text>
<line x1="32.95" y1="66.89" x2="37.15" y2="66.89" stroke="#000" stroke-width="1.1"/>
<text x="31.949999999999996" y="69.49" font-size="6.5" text-anchor="end" font-weight="bold" fill="#000" stroke="#000" stroke-width="0.22">60</text>
<line x1="32.95" y1="51.77" x2="37.15" y2="51.77" stroke="#000" stroke-width="1.1"/>
<text x="31.949999999999996" y="54.37" font-size="6.5" text-anchor="end" font-weight="bold" fill="#000" stroke="#000" stroke-width="0.22">80</text>
<line x1="32.95" y1="36.65" x2="37.15" y2="36.65" stroke="#000" stroke-width="1.1"/>
<text x="31.949999999999996" y="39.25000000000001" font-size="6.5" text-anchor="end" font-weight="bold" fill="#000" stroke="#000" stroke-width="0.22">100</text>
<line x1="32.95" y1="21.53" x2="37.15" y2="21.53" stroke="#000" stroke-width="1.1"/>
<text x="31.949999999999996" y="24.130000000000003" font-size="6.5" text-anchor="end" font-weight="bold" fill="#000" stroke="#000" stroke-width="0.22">120</text>
<text x="46.9" y="122.75" font-size="6.6" text-anchor="end" font-weight="bold" fill="#000" stroke="#000" stroke-width="0.38" transform="rotate(-45 46.9 122.75)">0</text>
<text x="57.74" y="122.75" font-size="6.6" text-anchor="end" font-weight="bold" fill="#000" stroke="#000" stroke-width="0.38" transform="rotate(-45 57.74 122.75)">5</text>
<text x="68.58000000000001" y="122.75" font-size="6.6" text-anchor="end" font-weight="bold" fill="#000" stroke="#000" stroke-width="0.38" transform="rotate(-45 68.58000000000001 122.75)">10</text>
<text x="79.42" y="122.75" font-size="6.6" text-anchor="end" font-weight="bold" fill="#000" stroke="#000" stroke-width="0.38" transform="rotate(-45 79.42 122.75)">20</text>
<text x="90.26" y="122.75" font-size="6.6" text-anchor="end" font-weight="bold" fill="#000" stroke="#000" stroke-width="0.38" transform="rotate(-45 90.26 122.75)">40</text>
<text x="101.10000000000001" y="122.75" font-size="6.6" text-anchor="end" font-weight="bold" fill="#000" stroke="#000" stroke-width="0.38" transform="rotate(-45 101.10000000000001 122.75)">80</text>
<text x="111.94" y="122.75" font-size="6.6" text-anchor="end" font-weight="bold" fill="#000" stroke="#000" stroke-width="0.38" transform="rotate(-45 111.94 122.75)">100</text>
<text x="122.78" y="122.75" font-size="6.6" text-anchor="end" font-weight="bold" fill="#000" stroke="#000" stroke-width="0.38" transform="rotate(-45 122.78 122.75)">200</text>
<text x="133.62" y="122.75" font-size="6.6" text-anchor="end" font-weight="bold" fill="#000" stroke="#000" stroke-width="0.38" transform="rotate(-45 133.62 122.75)">400</text>
<text x="144.46" y="122.75" font-size="6.6" text-anchor="end" font-weight="bold" fill="#000" stroke="#000" stroke-width="0.38" transform="rotate(-45 144.46 122.75)">800</text>
<text x="152" y="123.9" font-size="6.5" text-anchor="middle" font-weight="normal" fill="#222" stroke="#222" stroke-width="0.35">μM</text>
<text x="93.5" y="143.6" font-size="7.62" text-anchor="middle" font-weight="bold" fill="#000" stroke="#000" stroke-width="0.22">Concentration</text>
<text x="16.5" y="66.65" font-size="7.55" text-anchor="middle" font-weight="bold" fill="#000" stroke="#000" stroke-width="0.22" transform="rotate(-90 16.5 66.65)" textLength="72.3" lengthAdjust="spacingAndGlyphs">Mitophagic cells (%)</text>
<line x1="48" y1="70.75" x2="98.5" y2="70.75" stroke="#333" stroke-width="1.2"/>
<text x="73.1" y="69.4" font-size="6.2" text-anchor="middle" font-weight="bold" fill="#000" stroke="#000" stroke-width="0.22">NS</text>
<text x="109.3" y="69.35" font-size="6.6" text-anchor="middle" font-weight="bold" fill="#000" stroke="#000" stroke-width="0.08">*</text>
<text x="120.6" y="63.55" font-size="6.6" text-anchor="middle" font-weight="bold" fill="#000" stroke="#000" stroke-width="0.08">**</text>
<text x="130.5" y="35.95" font-size="6.6" text-anchor="middle" font-weight="bold" fill="#000" stroke="#000" stroke-width="0.08">***</text>
<text x="142.3" y="31.0" font-size="6.6" text-anchor="middle" font-weight="bold" fill="#000" stroke="#000" stroke-width="0.08">***</text>
<rect x="209.95" y="105.00" width="10.90" height="7.55" fill="#000"/>
<line x1="215.40" y1="104.40" x2="215.40" y2="105.50" stroke="#000" stroke-width="1.3"/>
<line x1="212.60" y1="104.50" x2="218.20" y2="104.50" stroke="#000" stroke-width="1.1"/>
<line x1="215.40" y1="112.55" x2="215.40" y2="116.15" stroke="#000" stroke-width="1.2"/>
<rect x="226.27" y="83.00" width="10.90" height="29.55" fill="#000"/>
<line x1="231.72" y1="74.80" x2="231.72" y2="83.50" stroke="#000" stroke-width="1.3"/>
<line x1="228.92" y1="74.90" x2="234.52" y2="74.90" stroke="#000" stroke-width="1.1"/>
<line x1="231.72" y1="112.55" x2="231.72" y2="116.15" stroke="#000" stroke-width="1.2"/>
<rect x="242.59" y="75.50" width="10.90" height="37.05" fill="#000"/>
<line x1="248.04" y1="62.80" x2="248.04" y2="76.00" stroke="#000" stroke-width="1.3"/>
<line x1="245.24" y1="62.90" x2="250.84" y2="62.90" stroke="#000" stroke-width="1.1"/>
<line x1="248.04" y1="112.55" x2="248.04" y2="116.15" stroke="#000" stroke-width="1.2"/>
<rect x="258.91" y="64.10" width="10.90" height="48.45" fill="#000"/>
<line x1="264.36" y1="48.30" x2="264.36" y2="64.60" stroke="#000" stroke-width="1.3"/>
<line x1="261.56" y1="48.40" x2="267.16" y2="48.40" stroke="#000" stroke-width="1.1"/>
<line x1="264.36" y1="112.55" x2="264.36" y2="116.15" stroke="#000" stroke-width="1.2"/>
<rect x="275.23" y="55.20" width="10.90" height="57.35" fill="#000"/>
<line x1="280.68" y1="51.50" x2="280.68" y2="55.70" stroke="#000" stroke-width="1.3"/>
<line x1="277.88" y1="51.60" x2="283.48" y2="51.60" stroke="#000" stroke-width="1.1"/>
<line x1="280.68" y1="112.55" x2="280.68" y2="116.15" stroke="#000" stroke-width="1.2"/>
<rect x="291.55" y="37.50" width="10.90" height="75.05" fill="#000"/>
<line x1="297.00" y1="30.50" x2="297.00" y2="38.00" stroke="#000" stroke-width="1.3"/>
<line x1="294.20" y1="30.60" x2="299.80" y2="30.60" stroke="#000" stroke-width="1.1"/>
<line x1="297.00" y1="112.55" x2="297.00" y2="116.15" stroke="#000" stroke-width="1.2"/>
<line x1="204.35" y1="21.30" x2="204.35" y2="113.35" stroke="#000" stroke-width="1.6"/>
<line x1="200.15" y1="112.55" x2="308.50" y2="112.55" stroke="#000" stroke-width="1.6"/>
<line x1="200.15" y1="112.55" x2="204.35" y2="112.55" stroke="#000" stroke-width="1.1"/>
<text x="199.15" y="115.14999999999999" font-size="6.5" text-anchor="end" font-weight="bold" fill="#000" stroke="#000" stroke-width="0.22">0</text>
<line x1="200.15" y1="94.40" x2="204.35" y2="94.40" stroke="#000" stroke-width="1.1"/>
<text x="199.15" y="97.0" font-size="6.5" text-anchor="end" font-weight="bold" fill="#000" stroke="#000" stroke-width="0.22">20</text>
<line x1="200.15" y1="76.25" x2="204.35" y2="76.25" stroke="#000" stroke-width="1.1"/>
<text x="199.15" y="78.85" font-size="6.5" text-anchor="end" font-weight="bold" fill="#000" stroke="#000" stroke-width="0.22">40</text>
<line x1="200.15" y1="58.10" x2="204.35" y2="58.10" stroke="#000" stroke-width="1.1"/>
<text x="199.15" y="60.7" font-size="6.5" text-anchor="end" font-weight="bold" fill="#000" stroke="#000" stroke-width="0.22">60</text>
<line x1="200.15" y1="39.95" x2="204.35" y2="39.95" stroke="#000" stroke-width="1.1"/>
<text x="199.15" y="42.550000000000004" font-size="6.5" text-anchor="end" font-weight="bold" fill="#000" stroke="#000" stroke-width="0.22">80</text>
<line x1="200.15" y1="21.80" x2="204.35" y2="21.80" stroke="#000" stroke-width="1.1"/>
<text x="199.15" y="24.4" font-size="6.5" text-anchor="end" font-weight="bold" fill="#000" stroke="#000" stroke-width="0.22">100</text>
<text x="215.4" y="123.6" font-size="6.5" text-anchor="middle" font-weight="bold" fill="#000" stroke="#000" stroke-width="0.22">0</text>
<text x="231.72" y="123.6" font-size="6.5" text-anchor="middle" font-weight="bold" fill="#000" stroke="#000" stroke-width="0.22">3</text>
<text x="248.04000000000002" y="123.6" font-size="6.5" text-anchor="middle" font-weight="bold" fill="#000" stroke="#000" stroke-width="0.22">6</text>
<text x="264.36" y="123.6" font-size="6.5" text-anchor="middle" font-weight="bold" fill="#000" stroke="#000" stroke-width="0.22">12</text>
<text x="280.68" y="123.6" font-size="6.5" text-anchor="middle" font-weight="bold" fill="#000" stroke="#000" stroke-width="0.22">18</text>
<text x="297.0" y="123.6" font-size="6.5" text-anchor="middle" font-weight="bold" fill="#000" stroke="#000" stroke-width="0.22">24</text>
<text x="306.5" y="123.6" font-size="6.5" text-anchor="middle" font-weight="bold" fill="#000" stroke="#000" stroke-width="0.22">h</text>
<text x="256.2" y="135.2" font-size="7.4" text-anchor="middle" font-weight="bold" fill="#000" stroke="#000" stroke-width="0.22">Time</text>
<text x="183.7" y="66.9" font-size="7.55" text-anchor="middle" font-weight="bold" fill="#000" stroke="#000" stroke-width="0.22" transform="rotate(-90 183.7 66.9)" textLength="72.3" lengthAdjust="spacingAndGlyphs">Mitophagic cells (%)</text>
<text x="232.0" y="72.8" font-size="6.2" text-anchor="middle" font-weight="bold" fill="#000" stroke="#000" stroke-width="0.22">NS</text>
<text x="248.2" y="61.0" font-size="6.2" text-anchor="middle" font-weight="bold" fill="#000" stroke="#000" stroke-width="0.22">NS</text>
<text x="264.1" y="49.55" font-size="6.6" text-anchor="middle" font-weight="bold" fill="#000" stroke="#000" stroke-width="0.08">*</text>
<text x="280.4" y="49.25" font-size="6.6" text-anchor="middle" font-weight="bold" fill="#000" stroke="#000" stroke-width="0.08">**</text>
<text x="296.7" y="31.05" font-size="6.6" text-anchor="middle" font-weight="bold" fill="#000" stroke="#000" stroke-width="0.08">***</text>
<rect x="494.95" y="80.00" width="10.90" height="32.55" fill="#000"/>
<line x1="500.40" y1="74.20" x2="500.40" y2="80.50" stroke="#000" stroke-width="1.3"/>
<line x1="497.60" y1="74.30" x2="503.20" y2="74.30" stroke="#000" stroke-width="1.1"/>
<line x1="500.40" y1="112.55" x2="500.40" y2="116.15" stroke="#000" stroke-width="1.2"/>
<rect x="511.25" y="46.00" width="10.90" height="66.55" fill="#000"/>
<line x1="516.70" y1="34.00" x2="516.70" y2="46.50" stroke="#000" stroke-width="1.3"/>
<line x1="513.90" y1="34.10" x2="519.50" y2="34.10" stroke="#000" stroke-width="1.1"/>
<line x1="516.70" y1="112.55" x2="516.70" y2="116.15" stroke="#000" stroke-width="1.2"/>
<rect x="527.55" y="72.80" width="10.90" height="39.75" fill="#000"/>
<line x1="533.00" y1="72.20" x2="533.00" y2="73.30" stroke="#000" stroke-width="1.3"/>
<line x1="530.20" y1="72.30" x2="535.80" y2="72.30" stroke="#000" stroke-width="1.1"/>
<line x1="533.00" y1="112.55" x2="533.00" y2="116.15" stroke="#000" stroke-width="1.2"/>
<line x1="489.50" y1="21.01" x2="489.50" y2="113.35" stroke="#000" stroke-width="1.6"/>
<line x1="485.30" y1="112.55" x2="544.50" y2="112.55" stroke="#000" stroke-width="1.6"/>
<line x1="485.30" y1="112.55" x2="489.50" y2="112.55" stroke="#000" stroke-width="1.1"/>
<text x="484.3" y="115.14999999999999" font-size="6.5" text-anchor="end" font-weight="bold" fill="#000" stroke="#000" stroke-width="0.22">0</text>
<line x1="485.30" y1="89.79" x2="489.50" y2="89.79" stroke="#000" stroke-width="1.1"/>
<text x="484.3" y="92.38999999999999" font-size="6.5" text-anchor="end" font-weight="bold" fill="#000" stroke="#000" stroke-width="0.22">1</text>
<line x1="485.30" y1="67.03" x2="489.50" y2="67.03" stroke="#000" stroke-width="1.1"/>
<text x="484.3" y="69.63" font-size="6.5" text-anchor="end" font-weight="bold" fill="#000" stroke="#000" stroke-width="0.22">2</text>
<line x1="485.30" y1="44.27" x2="489.50" y2="44.27" stroke="#000" stroke-width="1.1"/>
<text x="484.3" y="46.87" font-size="6.5" text-anchor="end" font-weight="bold" fill="#000" stroke="#000" stroke-width="0.22">3</text>
<line x1="485.30" y1="21.51" x2="489.50" y2="21.51" stroke="#000" stroke-width="1.1"/>
<text x="484.3" y="24.109999999999992" font-size="6.5" text-anchor="end" font-weight="bold" fill="#000" stroke="#000" stroke-width="0.22">4</text>
<text x="502.59999999999997" y="123.35" font-size="7.0" text-anchor="end" font-weight="bold" fill="#000" stroke="#000" stroke-width="0.32" transform="rotate(-45 502.59999999999997 123.35)">Veh</text>
<text x="518.9000000000001" y="123.35" font-size="7.0" text-anchor="end" font-weight="bold" fill="#000" stroke="#000" stroke-width="0.32" transform="rotate(-45 518.9000000000001 123.35)">Starv</text>
<text x="535.2" y="123.35" font-size="7.0" text-anchor="end" font-weight="bold" fill="#000" stroke="#000" stroke-width="0.32" transform="rotate(-45 535.2 123.35)">Palmatine</text>
<text x="469.9" y="66.5" font-size="7.55" text-anchor="middle" font-weight="bold" fill="#000" stroke="#000" stroke-width="0.22" transform="rotate(-90 469.9 66.5)" textLength="52" lengthAdjust="spacingAndGlyphs">Autophagy (%)</text>
<path d="M499.75 20.95V17.05H533.00V20.95" fill="none" stroke="#000" stroke-width="1.3"/>
<text x="516.6" y="15.8" font-size="6.2" text-anchor="middle" font-weight="bold" fill="#000" stroke="#000" stroke-width="0.22">NS</text>
<path d="M499.75 29.75V25.95H516.25V29.75" fill="none" stroke="#000" stroke-width="1.3"/>
<text x="508.4" y="27.55" font-size="6.6" text-anchor="middle" font-weight="bold" fill="#000" stroke="#000" stroke-width="0.08">*</text>
<text x="368.3" y="15.2" font-size="7.6" text-anchor="middle" font-weight="bold" fill="#000" stroke="#000" stroke-width="0.22">Veh</text>
<text x="428.0" y="15.2" font-size="7.6" text-anchor="middle" font-weight="bold" fill="#000" stroke="#000" stroke-width="0.22">Starv</text>
<text x="426.8" y="84.0" font-size="7.6" text-anchor="middle" font-weight="bold" fill="#000" stroke="#000" stroke-width="0.22">Palmatine</text>
<text x="425.0" y="153.0" font-size="7.7" text-anchor="middle" font-weight="bold" stroke-width="0.2"><tspan fill="#22ac5e" stroke="#22ac5e">458 nm,</tspan><tspan fill="#ed1c24" stroke="#ed1c24"> 561 nm</tspan></text>
<rect x="33.25" y="243.30" width="10.90" height="30.25" fill="#000"/>
<line x1="38.70" y1="273.55" x2="38.70" y2="277.15" stroke="#000" stroke-width="1.2"/>
<rect x="49.75" y="241.20" width="10.90" height="32.35" fill="#000"/>
<line x1="55.20" y1="214.20" x2="55.20" y2="241.70" stroke="#000" stroke-width="1.3"/>
<line x1="52.50" y1="214.30" x2="57.90" y2="214.30" stroke="#000" stroke-width="1.1"/>
<line x1="55.20" y1="273.55" x2="55.20" y2="277.15" stroke="#000" stroke-width="1.2"/>
<rect x="66.25" y="201.00" width="10.90" height="72.55" fill="#000"/>
<line x1="71.70" y1="191.00" x2="71.70" y2="201.50" stroke="#000" stroke-width="1.3"/>
<line x1="69.00" y1="191.10" x2="74.40" y2="191.10" stroke="#000" stroke-width="1.1"/>
<line x1="71.70" y1="273.55" x2="71.70" y2="277.15" stroke="#000" stroke-width="1.2"/>
<line x1="27.85" y1="181.80" x2="27.85" y2="274.35" stroke="#000" stroke-width="1.6"/>
<line x1="23.65" y1="273.55" x2="82.50" y2="273.55" stroke="#000" stroke-width="1.6"/>
<line x1="23.65" y1="273.55" x2="27.85" y2="273.55" stroke="#000" stroke-width="1.1"/>
<text x="22.650000000000002" y="276.15000000000003" font-size="6.5" text-anchor="end" font-weight="bold" fill="#000" stroke="#000" stroke-width="0.22">0</text>
<line x1="23.65" y1="243.13" x2="27.85" y2="243.13" stroke="#000" stroke-width="1.1"/>
<text x="22.650000000000002" y="245.73333333333335" font-size="6.5" text-anchor="end" font-weight="bold" fill="#000" stroke="#000" stroke-width="0.22">1</text>
<line x1="23.65" y1="212.72" x2="27.85" y2="212.72" stroke="#000" stroke-width="1.1"/>
<text x="22.650000000000002" y="215.31666666666666" font-size="6.5" text-anchor="end" font-weight="bold" fill="#000" stroke="#000" stroke-width="0.22">2</text>
<line x1="23.65" y1="182.30" x2="27.85" y2="182.30" stroke="#000" stroke-width="1.1"/>
<text x="22.650000000000002" y="184.9" font-size="6.5" text-anchor="end" font-weight="bold" fill="#000" stroke="#000" stroke-width="0.22">3</text>
<text x="38.800000000000004" y="284.75" font-size="6.5" text-anchor="middle" font-weight="bold" fill="#000" stroke="#000" stroke-width="0.22">0</text>
<text x="55.300000000000004" y="284.75" font-size="6.5" text-anchor="middle" font-weight="bold" fill="#000" stroke="#000" stroke-width="0.22">24</text>
<text x="71.8" y="284.75" font-size="6.5" text-anchor="middle" font-weight="bold" fill="#000" stroke="#000" stroke-width="0.22">48</text>
<text x="84.9" y="284.75" font-size="6.5" text-anchor="middle" font-weight="bold" fill="#000" stroke="#000" stroke-width="0.22">h</text>
<text x="55.400000000000006" y="296.1" font-size="7.3" text-anchor="middle" font-weight="bold" fill="#000" stroke="#000" stroke-width="0.22">Time</text>
<text x="14.8" y="227.25" font-size="7.55" text-anchor="middle" font-weight="bold" fill="#000" stroke="#000" stroke-width="0.22" transform="rotate(-90 14.8 227.25)" textLength="74.5" lengthAdjust="spacingAndGlyphs">PGC-1α mRNA (fold)</text>
<path d="M38.70 183.50V179.60H71.70V183.50" fill="none" stroke="#000" stroke-width="1.3"/>
<path d="M38.70 194.90V191.00H55.20V194.90" fill="none" stroke="#000" stroke-width="1.3"/>
<text x="47.1" y="189.8" font-size="6.2" text-anchor="middle" font-weight="bold" fill="#000" stroke="#000" stroke-width="0.22">NS</text>
<text x="55.2" y="181.2" font-size="6.6" text-anchor="middle" font-weight="bold" fill="#000" stroke="#000" stroke-width="0.08">*</text>
<rect x="142.25" y="255.40" width="10.90" height="18.15" fill="#000"/>
<line x1="147.70" y1="273.55" x2="147.70" y2="277.15" stroke="#000" stroke-width="1.2"/>
<rect x="158.80" y="258.20" width="10.90" height="15.35" fill="#000"/>
<line x1="164.25" y1="252.80" x2="164.25" y2="258.70" stroke="#000" stroke-width="1.3"/>
<line x1="161.55" y1="252.90" x2="166.95" y2="252.90" stroke="#000" stroke-width="1.1"/>
<line x1="164.25" y1="273.55" x2="164.25" y2="277.15" stroke="#000" stroke-width="1.2"/>
<rect x="175.30" y="211.00" width="10.90" height="62.55" fill="#000"/>
<line x1="180.75" y1="187.50" x2="180.75" y2="211.50" stroke="#000" stroke-width="1.3"/>
<line x1="178.05" y1="187.60" x2="183.45" y2="187.60" stroke="#000" stroke-width="1.1"/>
<line x1="180.75" y1="273.55" x2="180.75" y2="277.15" stroke="#000" stroke-width="1.2"/>
<line x1="136.90" y1="181.80" x2="136.90" y2="274.35" stroke="#000" stroke-width="1.6"/>
<line x1="132.70" y1="273.55" x2="191.55" y2="273.55" stroke="#000" stroke-width="1.6"/>
<line x1="132.70" y1="273.55" x2="136.90" y2="273.55" stroke="#000" stroke-width="1.1"/>
<text x="131.70000000000002" y="276.15000000000003" font-size="6.5" text-anchor="end" font-weight="bold" fill="#000" stroke="#000" stroke-width="0.22">0</text>
<line x1="132.70" y1="255.30" x2="136.90" y2="255.30" stroke="#000" stroke-width="1.1"/>
<text x="131.70000000000002" y="257.90000000000003" font-size="6.5" text-anchor="end" font-weight="bold" fill="#000" stroke="#000" stroke-width="0.22">1</text>
<line x1="132.70" y1="237.05" x2="136.90" y2="237.05" stroke="#000" stroke-width="1.1"/>
<text x="131.70000000000002" y="239.65" font-size="6.5" text-anchor="end" font-weight="bold" fill="#000" stroke="#000" stroke-width="0.22">2</text>
<line x1="132.70" y1="218.80" x2="136.90" y2="218.80" stroke="#000" stroke-width="1.1"/>
<text x="131.70000000000002" y="221.4" font-size="6.5" text-anchor="end" font-weight="bold" fill="#000" stroke="#000" stroke-width="0.22">3</text>
<line x1="132.70" y1="200.55" x2="136.90" y2="200.55" stroke="#000" stroke-width="1.1"/>
<text x="131.70000000000002" y="203.15" font-size="6.5" text-anchor="end" font-weight="bold" fill="#000" stroke="#000" stroke-width="0.22">4</text>
<line x1="132.70" y1="182.30" x2="136.90" y2="182.30" stroke="#000" stroke-width="1.1"/>
<text x="131.70000000000002" y="184.9" font-size="6.5" text-anchor="end" font-weight="bold" fill="#000" stroke="#000" stroke-width="0.22">5</text>
<text x="147.79999999999998" y="284.75" font-size="6.5" text-anchor="middle" font-weight="bold" fill="#000" stroke="#000" stroke-width="0.22">0</text>
<text x="164.35" y="284.75" font-size="6.5" text-anchor="middle" font-weight="bold" fill="#000" stroke="#000" stroke-width="0.22">24</text>
<text x="180.85" y="284.75" font-size="6.5" text-anchor="middle" font-weight="bold" fill="#000" stroke="#000" stroke-width="0.22">48</text>
<text x="193.95" y="284.75" font-size="6.5" text-anchor="middle" font-weight="bold" fill="#000" stroke="#000" stroke-width="0.22">h</text>
<text x="164.45" y="296.1" font-size="7.3" text-anchor="middle" font-weight="bold" fill="#000" stroke="#000" stroke-width="0.22">Time</text>
<text x="123.8" y="227.5" font-size="7.55" text-anchor="middle" font-weight="bold" fill="#000" stroke="#000" stroke-width="0.22" transform="rotate(-90 123.8 227.5)" textLength="66" lengthAdjust="spacingAndGlyphs">NRF1 mRNA (fold)</text>
<path d="M147.70 183.50V179.60H180.75V183.50" fill="none" stroke="#000" stroke-width="1.3"/>
<path d="M147.70 194.90V191.00H164.25V194.90" fill="none" stroke="#000" stroke-width="1.3"/>
<text x="156.125" y="189.8" font-size="6.2" text-anchor="middle" font-weight="bold" fill="#000" stroke="#000" stroke-width="0.22">NS</text>
<text x="164.225" y="181.2" font-size="6.6" text-anchor="middle" font-weight="bold" fill="#000" stroke="#000" stroke-width="0.08">*</text>
<rect x="251.85" y="258.30" width="10.90" height="15.25" fill="#000"/>
<line x1="257.30" y1="273.55" x2="257.30" y2="277.15" stroke="#000" stroke-width="1.2"/>
<rect x="268.35" y="260.00" width="10.90" height="13.55" fill="#000"/>
<line x1="273.80" y1="254.50" x2="273.80" y2="260.50" stroke="#000" stroke-width="1.3"/>
<line x1="271.10" y1="254.60" x2="276.50" y2="254.60" stroke="#000" stroke-width="1.1"/>
<line x1="273.80" y1="273.55" x2="273.80" y2="277.15" stroke="#000" stroke-width="1.2"/>
<rect x="284.85" y="215.25" width="10.90" height="58.30" fill="#000"/>
<line x1="290.30" y1="194.40" x2="290.30" y2="215.75" stroke="#000" stroke-width="1.3"/>
<line x1="287.60" y1="194.50" x2="293.00" y2="194.50" stroke="#000" stroke-width="1.1"/>
<line x1="290.30" y1="273.55" x2="290.30" y2="277.15" stroke="#000" stroke-width="1.2"/>
<line x1="246.35" y1="181.80" x2="246.35" y2="274.35" stroke="#000" stroke-width="1.6"/>
<line x1="242.15" y1="273.55" x2="301.00" y2="273.55" stroke="#000" stroke-width="1.6"/>
<line x1="242.15" y1="273.55" x2="246.35" y2="273.55" stroke="#000" stroke-width="1.1"/>
<text x="241.15" y="276.15000000000003" font-size="6.5" text-anchor="end" font-weight="bold" fill="#000" stroke="#000" stroke-width="0.22">0</text>
<line x1="242.15" y1="243.13" x2="246.35" y2="243.13" stroke="#000" stroke-width="1.1"/>
<text x="241.15" y="245.73333333333335" font-size="6.5" text-anchor="end" font-weight="bold" fill="#000" stroke="#000" stroke-width="0.22">2</text>
<line x1="242.15" y1="212.72" x2="246.35" y2="212.72" stroke="#000" stroke-width="1.1"/>
<text x="241.15" y="215.31666666666666" font-size="6.5" text-anchor="end" font-weight="bold" fill="#000" stroke="#000" stroke-width="0.22">4</text>
<line x1="242.15" y1="182.30" x2="246.35" y2="182.30" stroke="#000" stroke-width="1.1"/>
<text x="241.15" y="184.9" font-size="6.5" text-anchor="end" font-weight="bold" fill="#000" stroke="#000" stroke-width="0.22">6</text>
<text x="257.40000000000003" y="284.75" font-size="6.5" text-anchor="middle" font-weight="bold" fill="#000" stroke="#000" stroke-width="0.22">0</text>
<text x="273.90000000000003" y="284.75" font-size="6.5" text-anchor="middle" font-weight="bold" fill="#000" stroke="#000" stroke-width="0.22">24</text>
<text x="290.40000000000003" y="284.75" font-size="6.5" text-anchor="middle" font-weight="bold" fill="#000" stroke="#000" stroke-width="0.22">48</text>
<text x="303.5" y="284.75" font-size="6.5" text-anchor="middle" font-weight="bold" fill="#000" stroke="#000" stroke-width="0.22">h</text>
<text x="274.0" y="296.1" font-size="7.3" text-anchor="middle" font-weight="bold" fill="#000" stroke="#000" stroke-width="0.22">Time</text>
<text x="233.0" y="228.0" font-size="7.55" text-anchor="middle" font-weight="bold" fill="#000" stroke="#000" stroke-width="0.22" transform="rotate(-90 233.0 228.0)" textLength="68" lengthAdjust="spacingAndGlyphs">TFAM mRNA (fold)</text>
<path d="M257.30 183.50V179.60H290.30V183.50" fill="none" stroke="#000" stroke-width="1.3"/>
<path d="M257.30 194.90V191.00H273.80V194.90" fill="none" stroke="#000" stroke-width="1.3"/>
<text x="265.7" y="189.8" font-size="6.2" text-anchor="middle" font-weight="bold" fill="#000" stroke="#000" stroke-width="0.22">NS</text>
<text x="273.8" y="181.2" font-size="6.6" text-anchor="middle" font-weight="bold" fill="#000" stroke="#000" stroke-width="0.08">**</text>
</g>
</svg>
</body></html>
